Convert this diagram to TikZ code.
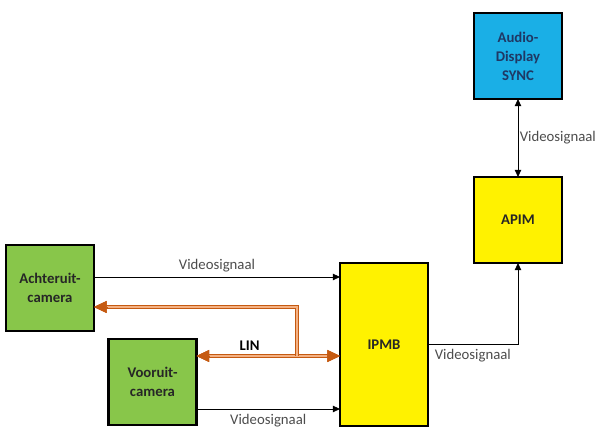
\documentclass[tikz,border=0pt]{standalone}
\usepackage{fontspec}
\setmainfont{Carlito}
\usepackage{tikz}
\usetikzlibrary{arrows.meta}
\definecolor{camgreen}{HTML}{88C64A}
\definecolor{syncblue}{HTML}{1AAFE6}
\definecolor{linorange}{HTML}{C55A11}
\definecolor{linlight}{HTML}{F4B183}
\definecolor{navytext}{HTML}{1F3864}

\begin{document}
\begin{tikzpicture}[
  box/.style={draw=black,line width=1.8pt,minimum width=2.2cm,minimum height=2.15cm,
    align=center,font=\fontsize{10.5}{13.5}\selectfont\bfseries,text=black!85,outer sep=0pt},
  sig/.style={line width=0.6pt,-{Triangle[length=5pt,width=4.5pt]}},
  lbl/.style={font=\fontsize{10.5}{12}\selectfont,text=black!70},
  lin/.style={draw=linorange,line width=0.6pt,double=linlight,double distance=1.4pt,
    -{Triangle[length=9pt,width=8.5pt]}},
  lintip/.style={draw=linorange,fill=linorange,line width=0.2pt,
    -{Triangle[length=9pt,width=8.5pt,fill=linorange]}}
]
  \useasboundingbox (0,0) rectangle (15,10.925);
  \node[box,fill=camgreen] (achter) at (1.25,3.725) {Achteruit-\\camera};
  \node[box,fill=camgreen] (voor) at (3.8125,1.375) {Vooruit-\\camera};
  \node[box,fill=yellow,minimum height=4.075cm] (ipmb) at (9.6,2.3125) {IPMB};
  \node[box,fill=yellow] (apim) at (12.95,5.425) {APIM};
  \node[box,fill=syncblue,text=navytext] (sync) at (12.95,9.525) {Audio-\\Display\\SYNC};
  \draw[sig] ([yshift=2.75mm]achter.east) coordinate (a1) -- (a1 -| ipmb.west)
    node[midway,above,lbl] {Videosignaal};
  \draw[sig] ([yshift=-6.75mm]voor.east) coordinate (v1) -- (v1 -| ipmb.west)
    node[midway,below,lbl] {Videosignaal};
  \coordinate (l1) at ([yshift=6.5mm]voor.east);
  \coordinate (l2) at (l1 -| ipmb.west);
  \coordinate (a2) at ([yshift=-4.75mm]achter.east);
  \coordinate (lb) at (7.425,0 |- l1);
  \draw[lin,{Triangle[length=9pt,width=8.5pt]}-{Triangle[length=9pt,width=8.5pt]}] (l1) -- (l2)
    node[pos=0.37,above,lbl,text=black,font=\fontsize{10.5}{12}\selectfont\bfseries] {LIN};
  \draw[lin] (lb) |- (a2);
  \draw[lintip] ([xshift=-9pt]l2) -- (l2);
  \draw[lintip] ([xshift=9pt]l1) -- (l1);
  \draw[lintip] ([xshift=9pt]a2) -- (a2);
  \draw[sig] (ipmb.east) -| (apim.south)
    node[pos=0.02,below right,lbl,inner xsep=2pt] {Videosignaal};
  \draw[sig,{Triangle[length=5pt,width=4.5pt]}-{Triangle[length=5pt,width=4.5pt]}] (apim.north) -- (sync.south)
    node[midway,right,lbl,inner xsep=1pt] {Videosignaal};
\end{tikzpicture}
\end{document}
